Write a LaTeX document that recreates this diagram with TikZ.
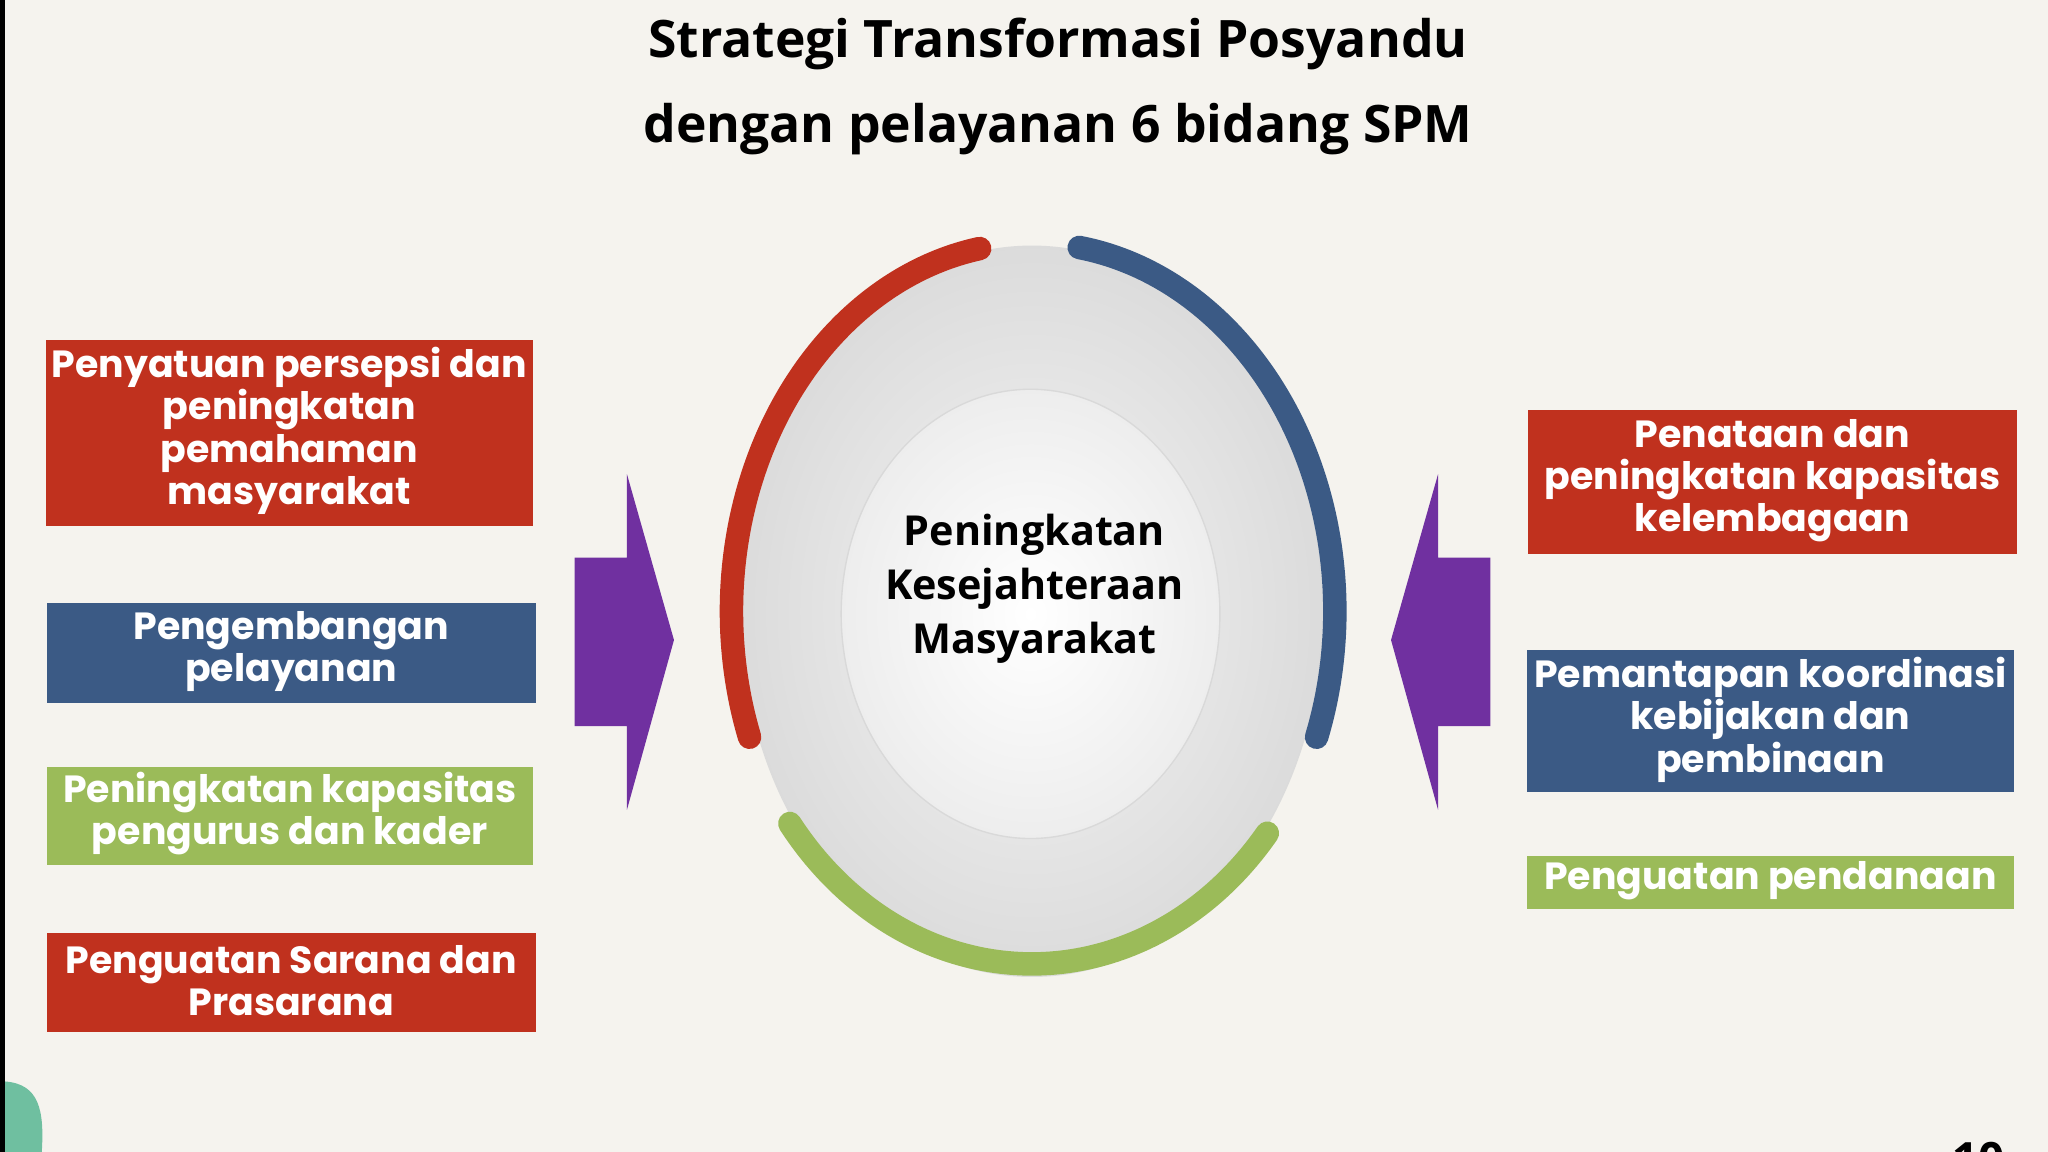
\documentclass[tikz,border=0pt]{standalone}
\usepackage{fontspec}
\setmainfont{Open Sans}
\newfontfamily\pop{Poppins}
\definecolor{bg}{HTML}{F5F3EE}
\definecolor{cred}{HTML}{C0311E}
\definecolor{cblue}{HTML}{3B5A85}
\definecolor{cgreen}{HTML}{9BBB59}
\definecolor{cpur}{HTML}{7030A0}
\definecolor{cteal}{HTML}{6FBFA0}
\tikzset{
 box/.style={text=white,font=\pop\bfseries\fontsize{16.5}{18.5}\selectfont,align=center,inner sep=0pt,anchor=center},
 arcline/.style={line width=0.36cm,line cap=round},
}
\begin{document}
\begin{tikzpicture}[x=0.02cm,y=-0.02cm]
\fill[bg] (0,0) rectangle (1568,882);
\useasboundingbox (0,0) rectangle (1568,882);
\fill[black] (0,0) rectangle (4,882);
\fill[cteal] (4,828) .. controls (30,830) and (34,850) .. (32,882) -- (4,882) -- cycle;
\node[font=\bfseries\fontsize{20}{20}\selectfont,anchor=north] (pg) at (1515,868) {10};
% title
\node[font=\bfseries\fontsize{22.5}{37}\selectfont,align=center] (title) at (810,66) {Strategi Transformasi Posyandu\\dengan pelayanan 6 bidang SPM};
% circle
\shade[inner color=gray!8,outer color=gray!28] (790,468) ellipse [x radius=223,y radius=280];
\shade[inner color=white,outer color=gray!14] (789,470) ellipse [x radius=145,y radius=172];
\draw[gray!30,line width=0.6pt] (789,470) ellipse [x radius=145,y radius=172];
\draw[arcline,cred] plot[domain=100:200,samples=60,smooth] ({790+230*cos(\x)},{468-282*sin(\x)});
\draw[arcline,cblue] plot[domain=-20:81,samples=60,smooth] ({790+232*cos(\x)},{468-282*sin(\x)});
\draw[arcline,cgreen] plot[domain=217:321,samples=60,smooth] ({790+232*cos(\x)},{468-270*sin(\x)});
\node[font=\bfseries\fontsize{18}{23.5}\selectfont,align=center] (center) at (792,451) {Peningkatan\\Kesejahteraan\\Masyarakat};
% arrows
\fill[cpur] (440,427) -- (480,427) -- (480,363) -- (516,490) -- (480,620) -- (480,556) -- (440,556) -- cycle;
\fill[cpur] (1141,427) -- (1101,427) -- (1101,363) -- (1065,490) -- (1101,620) -- (1101,556) -- (1141,556) -- cycle;
% boxes
\fill[cred] (35,260) rectangle (408,403);
\node[box] (b1) at (221.5,330) {Penyatuan persepsi dan\\peningkatan\\pemahaman\\masyarakat};
\fill[cblue] (36,462) rectangle (410,538);
\node[box] (b2) at (223,499) {Pengembangan\\pelayanan};
\fill[cgreen] (36,587) rectangle (408,662);
\node[box] (b3) at (222,623) {Peningkatan kapasitas\\pengurus dan kader};
\fill[cred] (36,714) rectangle (410,790);
\node[box] (b4) at (223,751) {Penguatan Sarana dan\\Prasarana};
\fill[cred] (1170,314) rectangle (1544,424);
\node[box] (b5) at (1357,368) {Penataan dan\\peningkatan kapasitas\\kelembagaan};
\fill[cblue] (1169,498) rectangle (1542,606);
\node[box] (b6) at (1355.5,551) {Pemantapan koordinasi\\kebijakan dan\\pembinaan};
\fill[cgreen] (1169,655) rectangle (1542,696);
\node[box] (b7) at (1355.5,674) {Penguatan pendanaan};
\end{tikzpicture}
\end{document}
